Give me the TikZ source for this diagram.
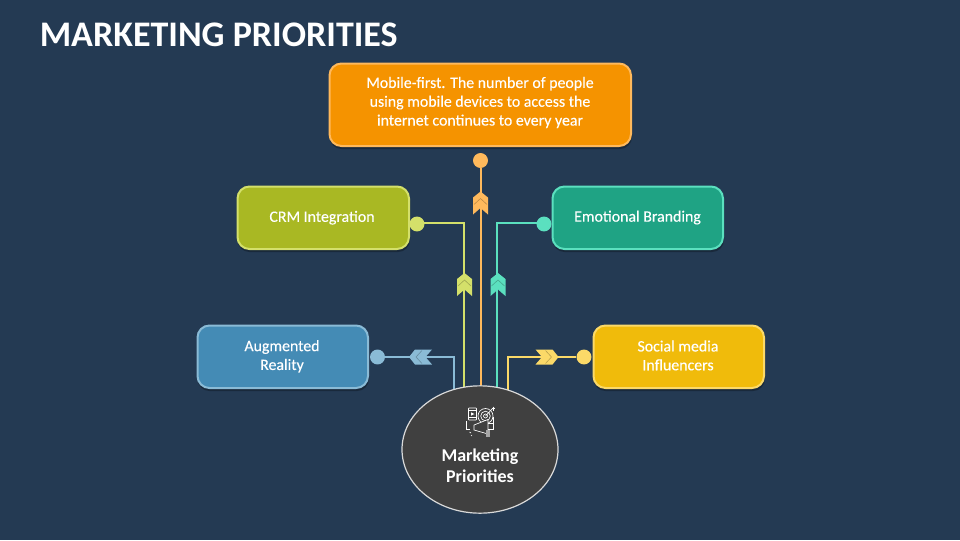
\documentclass[tikz,border=0pt]{standalone}
\usepackage{fontspec}
\setmainfont{Carlito}
\newfontfamily\labfont[FakeBold=0.25]{Carlito}
\usetikzlibrary{backgrounds,calc,shapes.geometric}
\definecolor{bgc}{HTML}{243A53}
\definecolor{orF}{HTML}{F59300}\definecolor{orL}{HTML}{FFB95C}
\definecolor{crF}{HTML}{A9B823}\definecolor{crL}{HTML}{D4E06A}
\definecolor{teF}{HTML}{1FA384}\definecolor{teL}{HTML}{5BE0BF}
\definecolor{blF}{HTML}{448BB5}\definecolor{blL}{HTML}{8ABBD6}
\definecolor{yeF}{HTML}{F0BB0B}\definecolor{yeL}{HTML}{FBD968}
\newcommand{\cardat}[7]{%
  \fill[black,opacity=.28,rounded corners=9pt] ($(#2,#3)+(1,3)$) rectangle ($(#4,#5)+(1,3)$);
  \node[card=#7,fill=#6,minimum width={(#4-#2-1)*0.75pt},minimum height={(#5-#3-1)*0.75pt},anchor=north west] (#1) at (#2,#3) {};
}
\tikzset{
  x=0.75pt,y=-0.75pt,
  card/.style={draw=#1,line width=1.5pt,rounded corners=9pt,inner sep=0pt},
  lab/.style={text=white,align=center,font=\labfont\fontsize{11.9}{14.1}\selectfont},
  dotn/.style={circle,fill=#1,inner sep=0pt,minimum size=11.2pt},
  wire/.style={line width=1.5pt,draw=#1},
  chev/.pic={
    \fill[pic actions] (0,-11.5) -- (7.5,-5.5) -- (7.5,11.5) -- (0,5) -- (-7.5,11.5) -- (-7.5,-5.5) -- cycle;
    \draw[black,opacity=.25,line width=.45pt] (-6.5,1.5) -- (0,-4.5) -- (6.5,1.5);
  },
  iconl/.style={draw=white,line width=.5pt}
}
\begin{document}
\begin{tikzpicture}
\path[use as bounding box] (0,0) rectangle (960,540);
\cardat{mobile}{328.5}{62.5}{631}{146}{orF}{orL}
\cardat{crm}{236.5}{185.5}{409}{249}{crF}{crL}
\cardat{emo}{551.5}{185.5}{723}{249}{teF}{teL}
\cardat{aug}{196.5}{324.5}{368}{388}{blF}{blL}
\cardat{soc}{592.5}{324.5}{764}{388}{yeF}{yeL}
\node[lab] (tmobile) at (480,102.5) {Mobile-first. The number of people\\using mobile devices to access the\\internet continues to every year};
\node[lab] (tcrm) at (322,217.7) {CRM Integration};
\node[lab] (temo) at (637.5,217.5) {Emotional Branding};
\node[lab] (taug) at (282,356.3) {Augmented\\Reality};
\node[lab] (tsoc) at (678,355.4) {Social media\\Influencers};
% centre
\node[ellipse,draw=white!85!black,fill=black!75,line width=.9pt,minimum width=117pt,minimum height=95.5pt,inner sep=0pt] (ell) at (480,449.5) {};
\node[text=white,align=center,font=\fontsize{13.5}{16}\selectfont\bfseries] (tell) at (480,465.5) {Marketing\\Priorities};
% title
\node[text=white,anchor=west,inner sep=0pt,font=\fontsize{27}{30}\selectfont\bfseries] (title) at (39.5,34.7) {MARKETING PRIORITIES};
% dots
\node[dotn=orL] (dor) at (480.5,160.5) {};
\node[dotn=crL] (dcr) at (417,224) {};
\node[dotn=teL] (dte) at (544,224) {};
\node[dotn=blL] (dbl) at (377.5,357) {};
\node[dotn=yeL] (dye) at (584,357) {};
% end points under the ellipse
\coordinate (eor) at (480.5,400);
\coordinate (ecr) at (464,400);
\coordinate (ete) at (497,400);
\coordinate (ebl) at (453.5,400);
\coordinate (eye) at (508,400);
\begin{pgfonlayer}{background}
\fill[bgc] (0,0) rectangle (960,540);
\draw[wire=orL] (dor) -- (eor);
\draw[wire=crL] (dcr.center) ++(0,-1) -| (ecr);
\draw[wire=teL] (dte.center) ++(0,-1) -| (ete);
\draw[wire=blL] (dbl) -| (ebl);
\draw[wire=yeL] (dye) -| (eye);
\end{pgfonlayer}
% chevrons
\pic[fill=orL] at (480.5,203) {chev};
\pic[fill=crL] at (464.5,284.5) {chev};
\pic[fill=teL] at (498,284.5) {chev};
\pic[fill=blL,rotate=90] at (420.5,357) {chev};
\pic[fill=yeL,rotate=-90] at (547,357) {chev};
% icon
\draw[iconl,rounded corners=.5pt] (468.5,408) rectangle (476.5,420);
\draw[iconl] (468.5,410.5) -- (476.5,410.5) (468.5,417.5) -- (476.5,417.5);
\fill[white] (471,412.3) -- (474.5,414) -- (471,415.7) -- cycle;
\draw[iconl] (485.5,416) circle (7.5) (485.5,416) circle (4.8) (485.5,416) circle (2);
\draw[iconl] (485.5,416) -- (494,407);
\draw[iconl] (491.5,408.5) -- (495,408.5) (493.2,406.5) -- (493.2,410.5);
\draw[iconl,fill=black!75] (474,425) -- (488,419.5) -- (488,434) -- (474,430) -- cycle;
\draw[iconl] (488,423) -- (493,423) -- (493,429) -- (488,429);
\draw[iconl] (466.5,421) -- (466.5,429) -- (470,429) (493.5,417) -- (493.5,424);
\draw[iconl] (469.5,432) -- (471,433) (471,435) -- (472,436);
\fill[white!65!black] (485.5,430) rectangle (490,437);
\end{tikzpicture}
\end{document}
